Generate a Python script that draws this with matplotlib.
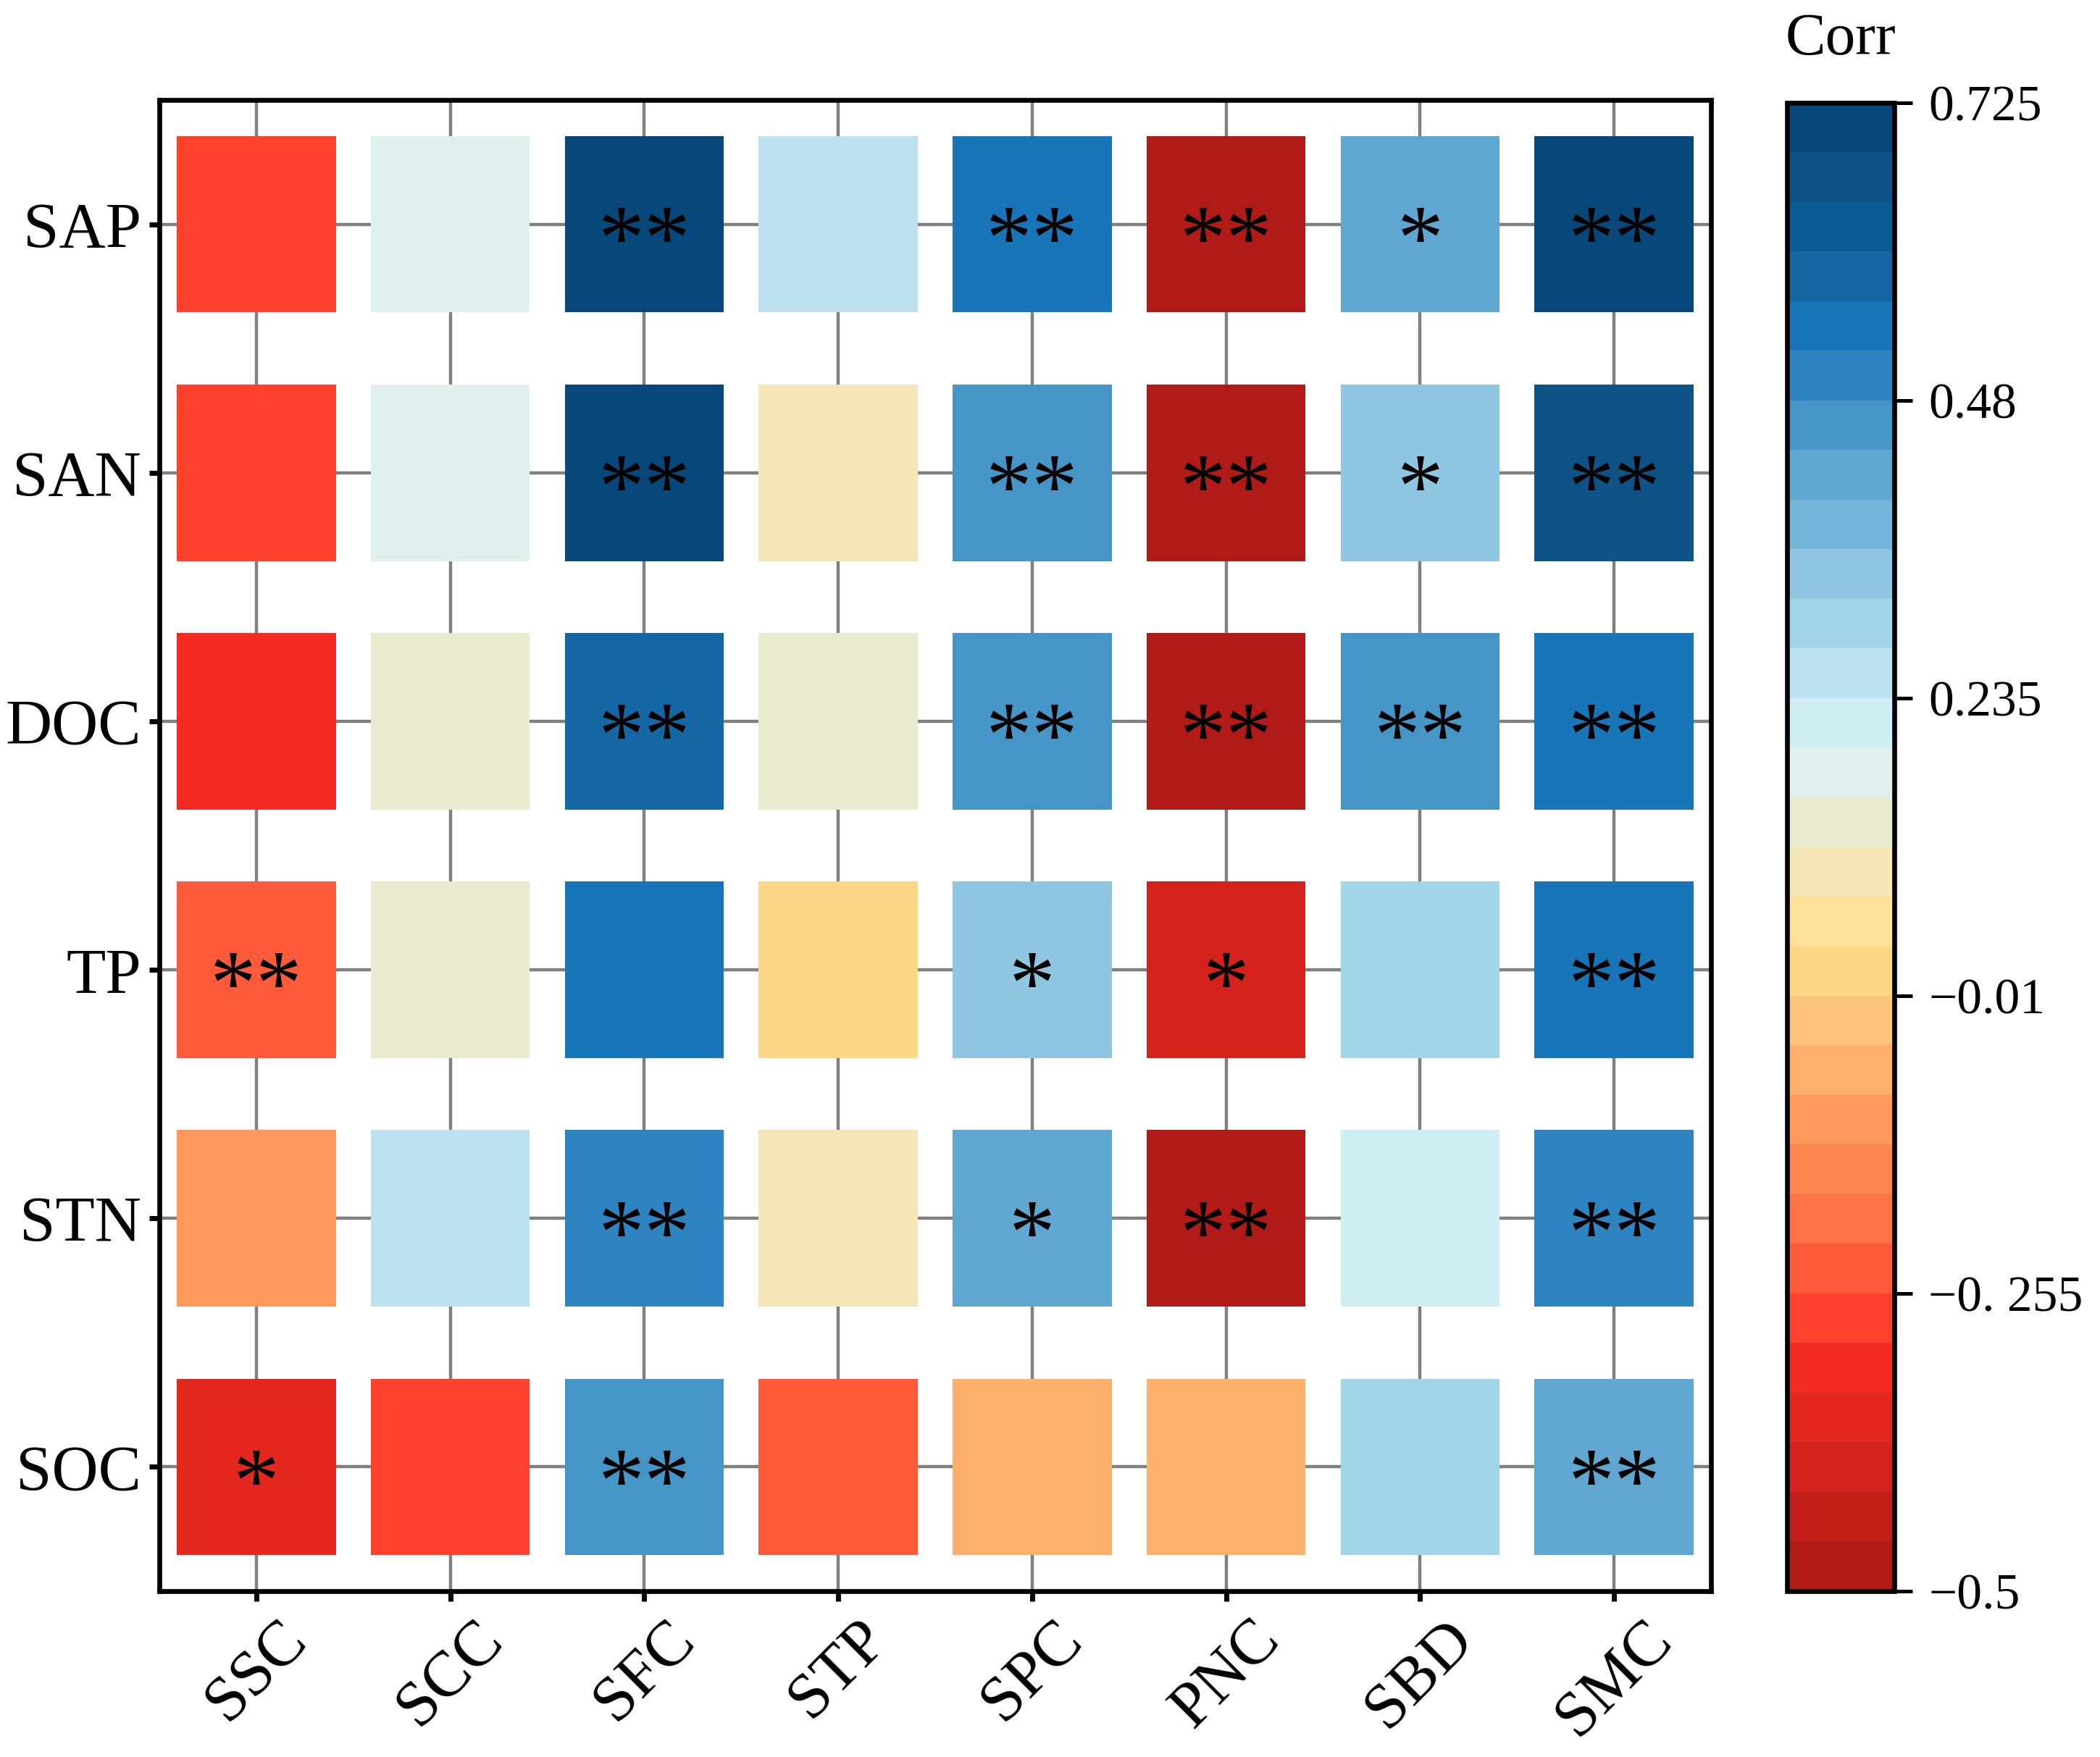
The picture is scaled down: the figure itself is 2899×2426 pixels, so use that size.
import matplotlib

matplotlib.use("Agg")
import matplotlib.pyplot as plt
from matplotlib.colors import ListedColormap, Normalize
from matplotlib.patches import Rectangle
import matplotlib.cm as cm

plt.rcParams["font.family"] = ["Liberation Serif", "DejaVu Serif"]

cols = ["SSC", "SCC", "SFC", "STP", "SPC", "PNC", "SBD", "SMC"]
rows = ["SAP", "SAN", "DOC", "TP", "STN", "SOC"]

# correlation values, one list per row
sap = [-0.275, 0.174, 0.705, 0.255, 0.541, -0.480, 0.418, 0.705]
san = [-0.275, 0.174, 0.705, 0.092, 0.459, -0.480, 0.337, 0.664]
doc = [-0.316, 0.133, 0.582, 0.133, 0.459, -0.480, 0.459, 0.541]
tp = [-0.235, 0.133, 0.541, 0.010, 0.337, -0.398, 0.296, 0.541]
stn = [-0.112, 0.255, 0.500, 0.092, 0.418, -0.480, 0.214, 0.500]
soc = [-0.357, -0.275, 0.459, -0.235, -0.071, -0.071, 0.296, 0.418]
values = [sap, san, doc, tp, stn, soc]

sig_sap = ["", "", "**", "", "**", "**", "*", "**"]
sig_san = ["", "", "**", "", "**", "**", "*", "**"]
sig_doc = ["", "", "**", "", "**", "**", "**", "**"]
sig_tp = ["**", "", "", "", "*", "*", "", "**"]
sig_stn = ["", "", "**", "", "*", "**", "", "**"]
sig_soc = ["*", "", "**", "", "", "", "", "**"]
sigs = [sig_sap, sig_san, sig_doc, sig_tp, sig_stn, sig_soc]

vmin, vmax = -0.5, 0.725
cbar_labels = ["\u22120.5", "\u22120. 255", "\u22120.01", "0.235", "0.48", "0.725"]

# 30-step palette, bottom (red) to top (blue)
palette = [
    "#b11b17", "#c41e19", "#d6221d", "#e4281f", "#f42b23", "#ff412d",
    "#ff5a3a", "#ff7447", "#fe8650", "#fe995b", "#fdaf6c", "#fdc27c",
    "#fdd686", "#fde19a", "#f4e6b6", "#eaeacf", "#e0f0ec", "#d0eef4",
    "#bce2ef", "#a2d5e8", "#8fc6e1", "#74b6d9", "#5fa7d1", "#4695c7",
    "#2e84c0", "#1775b8", "#1567a4", "#0a5c92", "#0f5286", "#08477a",
]
cmap = ListedColormap(palette)
norm = Normalize(vmin=vmin, vmax=vmax)

fig = plt.figure(figsize=(14.495, 12.13), dpi=200)
ax = fig.add_axes([0.0759, 0.0944, 0.7389, 0.8487])
cax = fig.add_axes([0.851, 0.0944, 0.051, 0.8471])

cw, ch = 0.82, 0.71
for i, row in enumerate(values):
    for j, v in enumerate(row):
        ax.add_patch(Rectangle((j - cw / 2, i - ch / 2), cw, ch,
                               facecolor=cmap(norm(v)), edgecolor="none", zorder=2))
        if sigs[i][j]:
            ax.annotate(sigs[i][j], (j, i), xytext=(0, -11), textcoords="offset points",
                        ha="center", va="center", fontsize=46, zorder=3)

ax.set_xlim(-0.5, len(cols) - 0.5)
ax.set_ylim(len(rows) - 0.5, -0.5)
ax.set_xticks(range(len(cols)))
ax.set_xticklabels(cols, rotation=45, ha="center", fontsize=32)
ax.set_yticks(range(len(rows)))
ax.set_yticklabels(rows, fontsize=32)
ax.tick_params(length=5, width=2.5, pad=4)
ax.grid(True, color="#808080", lw=1.6, zorder=0)
ax.set_axisbelow(True)
for s in ax.spines.values():
    s.set_linewidth(2.4)

sm = cm.ScalarMappable(norm=norm, cmap=cmap)
cb = fig.colorbar(sm, cax=cax)
ticks = [vmin + k * (vmax - vmin) / 5 for k in range(6)]
cb.set_ticks(ticks)
cb.set_ticklabels(cbar_labels)
cb.ax.tick_params(labelsize=25, length=9, width=1.8, pad=8)
cb.outline.set_linewidth(2.4)
cax.set_title("Corr", fontsize=30, pad=24)

fig.savefig("out.png", dpi=200)
